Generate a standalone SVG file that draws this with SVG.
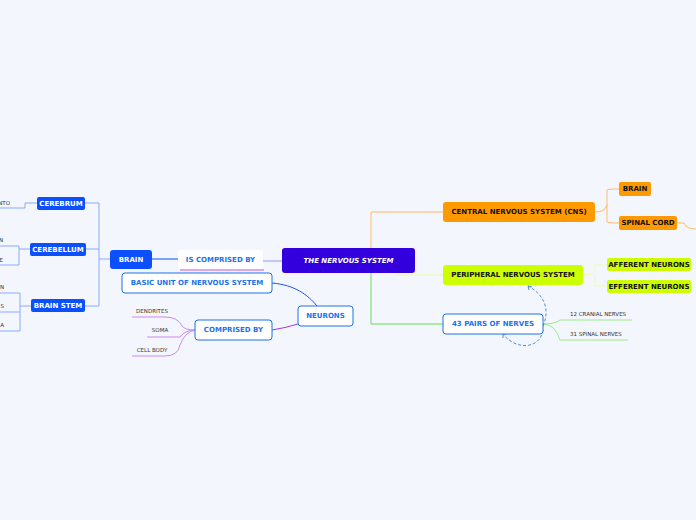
<svg xmlns="http://www.w3.org/2000/svg" width="696" height="520" viewBox="0 0 696 520">
<style>
.t{font-family:"DejaVu Sans",sans-serif;font-weight:bold;font-size:7px;text-anchor:middle;dominant-baseline:central}
.s{font-family:"DejaVu Sans",sans-serif;font-size:5.5px;fill:#333;dominant-baseline:central}
.w{fill:#fff}.b{fill:#1a73e8}.k{fill:#111}
.wb{fill:#fff;stroke:#1a73e8;stroke-width:1}
.bl{fill:#0b4fff}.or{fill:#ff9900}.li{fill:#ccff00}
path{fill:none}
</style>
<rect width="696" height="520" fill="#f3f6fd"/>
<g id="connectors" stroke-width="1">
<path d="M371,248 V212 H443" stroke="#ffbb66"/>
<path d="M395,275 H443" stroke="#e6ff99"/>
<path d="M371,273 V324 H443" stroke="#66dd55"/>
<path d="M595,212 Q605,212 607,205 V190 Q607,189 619,189 M607,205 V222 Q607,223 619,223" stroke="#ffbb66"/>
<path d="M677,223 H684 Q686,229 696,229" stroke="#ffbb66"/>
<path d="M583,275 Q595,275 595,270 V265 H607 M595,275 V286 H607" stroke="#eeffaa"/>
<path d="M543,324 Q555,324 560,320 H632 M543,324 Q555,324 560,340 H628" stroke="#99ee88"/>
<path d="M543,326 C550,310 545,295 528,286" stroke="#4a90e2" stroke-dasharray="3,2"/>
<path d="M543,330 C540,350 515,350 503,334" stroke="#4a90e2" stroke-dasharray="3,2"/>
<path d="M528,286 l1,4 M528,286 l4,1 M503,334 l0,4 M503,334 l4,0" stroke="#4a90e2"/>
<path d="M282,261 H263" stroke="#8899ee"/>
<path d="M152,259 H178" stroke="#0b4fff"/>
<path d="M180,270 H264" stroke="#cc55ee"/>
<path d="M110,259 H99 M99,203 V306 M85,203 H99 M86,249 H99 M85,306 H99" stroke="#88aaff"/>
<path d="M37,203 H25 V208 H0" stroke="#88aaff"/>
<path d="M30,249 H19 M19,246 V265 M19,246 H0 M19,265 H0" stroke="#88aaff"/>
<path d="M31,306 H20 M20,293 V331 M20,293 H0 M20,312 H0 M20,331 H0" stroke="#88aaff"/>
<path d="M272,283 C295,285 308,295 317,306" stroke="#2255ee"/>
<path d="M298,324 Q285,328 272,330" stroke="#aa33dd"/>
<path d="M195,330 Q185,330 182,326 Q178,317 165,317 H132 M195,330 Q185,330 180,337 H147 M195,330 Q185,332 180,345 Q178,356 165,356 H132" stroke="#cc88ee"/>
</g>
<g id="central"><rect x="282" y="248" width="133" height="25" rx="3" fill="#3300dd"/><text class="t w" x="348.5" y="261" font-size="9" font-style="italic">THE NERVOUS SYSTEM</text></g>
<g id="cns"><rect x="443" y="202" width="152" height="20" rx="3" class="or"/><text class="t k" x="519" y="212">CENTRAL NERVOUS SYSTEM (CNS)</text></g>
<g id="brain-r"><rect x="619" y="182" width="32" height="14" rx="2" class="or"/><text class="t k" x="635" y="189" font-size="6">BRAIN</text></g>
<g id="spinal"><rect x="619" y="216" width="58" height="14" rx="2" class="or"/><text class="t k" x="648" y="223" font-size="6">SPINAL CORD</text></g>
<g id="pns"><rect x="443" y="265" width="140" height="20" rx="3" class="li"/><text class="t k" x="513" y="275">PERIPHERAL NERVOUS SYSTEM</text></g>
<g id="aff"><rect x="607" y="258" width="84" height="13" rx="2" class="li"/><text class="t k" x="649" y="264.5" font-size="6">AFFERENT NEURONS</text></g>
<g id="eff"><rect x="607" y="280" width="84" height="13" rx="2" class="li"/><text class="t k" x="649" y="286.5" font-size="6">EFFERENT NEURONS</text></g>
<g id="pairs"><rect x="443" y="314" width="100" height="20" rx="3" class="wb"/><text class="t b" x="493" y="324">43 PAIRS OF NERVES</text></g>
<g id="cranial"><text class="s" x="570" y="314">12 CRANIAL NERVES</text></g>
<g id="spinaln"><text class="s" x="570" y="334">31 SPINAL NERVES</text></g>
<g id="iscomp"><rect x="178" y="250" width="85" height="19" rx="3" fill="#fff"/><text class="t b" x="220.5" y="259.5">IS COMPRISED BY</text></g>
<g id="brain"><rect x="110" y="250" width="42" height="19" rx="3" class="bl"/><text class="t w" x="131" y="259.5">BRAIN</text></g>
<g id="cerebrum"><rect x="37" y="197" width="48" height="13" rx="2" class="bl"/><text class="t w" x="61" y="203.5" font-size="6">CEREBRUM</text></g>
<g id="cerebellum"><rect x="30" y="243" width="56" height="13" rx="2" class="bl"/><text class="t w" x="58" y="249.5" font-size="6">CEREBELLUM</text></g>
<g id="brainstem"><rect x="31" y="299" width="54" height="13" rx="2" class="bl"/><text class="t w" x="58" y="305.5" font-size="6">BRAIN STEM</text></g>
<g id="cut"><text class="s" x="10" y="203" text-anchor="end">NTO</text><text class="s" x="3" y="240" text-anchor="end">N</text><text class="s" x="3" y="260" text-anchor="end">E</text><text class="s" x="4" y="287" text-anchor="end">N</text><text class="s" x="4" y="306" text-anchor="end">S</text><text class="s" x="4" y="325" text-anchor="end">A</text></g>
<g id="basic"><rect x="122" y="273" width="150" height="20" rx="3" class="wb"/><text class="t b" x="197" y="283">BASIC UNIT OF NERVOUS SYSTEM</text></g>
<g id="neurons"><rect x="298" y="306" width="55" height="20" rx="3" class="wb"/><text class="t b" x="325.5" y="316">NEURONS</text></g>
<g id="comp"><rect x="195" y="320" width="77" height="20" rx="3" class="wb"/><text class="t b" x="233.5" y="330">COMPRISED BY</text></g>
<g id="leaves"><text class="s" x="152" y="311" text-anchor="middle">DENDRITES</text><text class="s" x="160" y="330" text-anchor="middle">SOMA</text><text class="s" x="152" y="350" text-anchor="middle">CELL BODY</text></g>
</svg>
